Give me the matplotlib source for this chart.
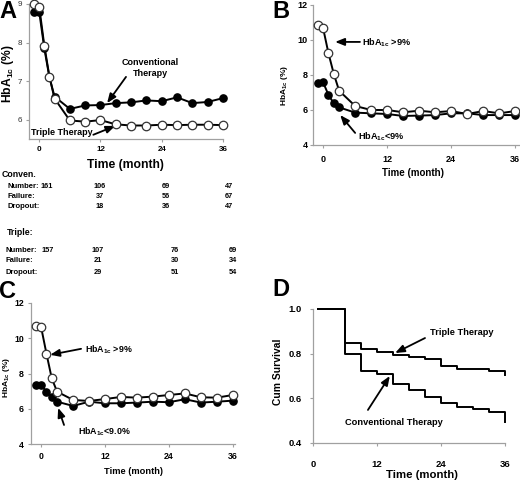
import matplotlib

matplotlib.use('Agg')
import matplotlib.pyplot as plt

plt.rcParams['font.family'] = ['Liberation Sans', 'DejaVu Sans']
plt.rcParams['font.weight'] = 'bold'
plt.rcParams['mathtext.fontset'] = 'custom'
plt.rcParams['mathtext.rm'] = 'Liberation Sans:bold'
plt.rcParams['mathtext.it'] = 'Liberation Sans:bold'
plt.rcParams['mathtext.bf'] = 'Liberation Sans:bold'

# ---- data ----
months = [-1, 0, 1, 2, 3, 6, 9, 12, 15, 18, 21, 24, 27, 30, 33, 36]

# panel A: HbA1c by treatment
conv_a = [8.80, 8.80, 7.85, 7.10, 6.60, 6.28, 6.37, 6.38, 6.43, 6.45, 6.50, 6.48, 6.58, 6.43, 6.46, 6.56]
conv_a_err = [0.08, 0.07, 0.07, 0.06, 0.05, 0.05, 0.05, 0.05, 0.05, 0.05, 0.06, 0.06, 0.07, 0.07, 0.06, 0.07]
triple_a = [9.00, 8.93, 7.92, 7.12, 6.55, 5.98, 5.95, 5.99, 5.88, 5.85, 5.85, 5.87, 5.86, 5.87, 5.87, 5.86]
triple_a_err = [0.08, 0.07, 0.06, 0.05, 0.05, 0.04, 0.05, 0.05, 0.04, 0.04, 0.05, 0.05, 0.05, 0.05, 0.05, 0.06]

# panel B: triple therapy by baseline HbA1c
high_b = [10.86, 10.67, 9.24, 8.06, 7.10, 6.23, 6.00, 6.00, 5.87, 5.96, 5.87, 5.94, 5.77, 5.94, 5.81, 5.94]
low_b = [7.52, 7.58, 6.86, 6.38, 6.15, 5.85, 5.81, 5.77, 5.66, 5.68, 5.71, 5.81, 5.81, 5.71, 5.71, 5.71]

# panel C: conventional therapy by baseline HbA1c
high_c = [10.72, 10.63, 9.13, 7.72, 6.97, 6.50, 6.44, 6.55, 6.67, 6.63, 6.69, 6.78, 6.87, 6.65, 6.63, 6.78]
low_c = [7.34, 7.34, 6.97, 6.69, 6.40, 6.16, 6.40, 6.31, 6.31, 6.35, 6.40, 6.37, 6.54, 6.35, 6.40, 6.46]

# panel D: cumulative survival
triple_t = [1, 6, 9, 12, 15, 18, 21, 24, 27, 33, 36]
triple_s = [1.0, 0.848, 0.822, 0.806, 0.792, 0.786, 0.775, 0.745, 0.731, 0.722, 0.705]
conv_t = [1, 6, 9, 12, 15, 18, 21, 24, 27, 30, 33, 36]
conv_s = [1.0, 0.800, 0.724, 0.709, 0.663, 0.636, 0.606, 0.578, 0.562, 0.553, 0.540, 0.495]

# table under panel A
row_names = ['Number:', 'Failure:', 'Dropout:']
conv_number = ['161', '106', '69', '47']
conv_failure = ['37', '56', '67']
conv_dropout = ['18', '36', '47']
triple_number = ['157', '107', '76', '69']
triple_failure = ['21', '30', '34']
triple_dropout = ['29', '51', '54']

W, H = 520, 480
GREY = '#a0a0a0'
fig = plt.figure(figsize=(W / 100, H / 100), dpi=100)


def box(left, top, right, bottom):
    return [left / W, 1 - bottom / H, (right - left) / W, (bottom - top) / H]


def ftext(px, py, s, **kw):
    fig.text(px / W, 1 - py / H, s, **kw)


def style(ax, size, xpad, ypad):
    for side in ('top', 'right'):
        ax.spines[side].set_visible(False)
    for side in ('left', 'bottom'):
        ax.spines[side].set_color(GREY)
        ax.spines[side].set_linewidth(0.9)
    ax.tick_params(axis='x', colors=GREY, labelcolor='black', labelsize=size,
                   length=2, width=0.8, pad=xpad)
    ax.tick_params(axis='y', colors=GREY, labelcolor='black', labelsize=size,
                   length=2, width=0.8, pad=ypad)
    ax.set_xticks([0, 12, 24, 36])


def arrow(ax, tail, head):
    ax.annotate('', xy=head, xytext=tail,
                arrowprops=dict(arrowstyle='-|>,head_length=0.55,head_width=0.22',
                                color='black', lw=1.3, shrinkA=0, shrinkB=0))


def pair(ax, filled, hollow, ms):
    ax.plot(months, filled, '-o', color='black', lw=1.4, ms=ms,
            mfc='black', mec='black', clip_on=False, zorder=3)
    ax.plot(months, hollow, '-o', color='black', lw=1.4, ms=ms + 0.9,
            mfc='white', mec='#333333', mew=0.9, clip_on=False, zorder=4)


# ---- A ----
ax = fig.add_axes(box(29, 4, 223, 139))
ax.errorbar(months, conv_a, yerr=conv_a_err, fmt='none', ecolor='#888888',
            elinewidth=0.8, capsize=1.5, zorder=2)
ax.errorbar(months, triple_a, yerr=triple_a_err, fmt='none', ecolor='#888888',
            elinewidth=0.8, capsize=1.5, zorder=2)
pair(ax, conv_a, triple_a, 5.2)
ax.set_xlim(-2, 36)
ax.set_ylim(5.5, 9.0)
ax.set_yticks([6, 7, 8, 9])
style(ax, 5.8, 3, 3)
for lab in ax.get_yticklabels():
    lab.set_fontweight('normal')
    lab.set_color('#333333')
ax.text(21.7, 7.35, 'Conventional\nTherapy', ha='center', va='center',
        fontsize=6.5, linespacing=1.25)
arrow(ax, (17.0, 7.11), (13.3, 6.43))
ax.text(4.5, 5.68, 'Triple Therapy', ha='center', va='center', fontsize=6.5)
arrow(ax, (10.6, 5.61), (14.9, 5.84))
ftext(125, 165, 'Time (month)', ha='center', va='center', fontsize=8.7)
ftext(8, 74, 'HbA$_{1c}$ (%)', ha='center', va='center', rotation=90, fontsize=8.7)
ftext(8, 11, 'A', ha='center', va='center', fontsize=17)

# table
ftext(2, 175, 'Conven.', ha='left', va='center', fontsize=6.3)
ftext(7, 233, 'Triple:', ha='left', va='center', fontsize=6.3)
for name, y in zip(row_names, [186, 197, 207]):
    ftext(7, y, name, ha='left', va='center', fontsize=5.5)
for name, y in zip(row_names, [250, 261, 272]):
    ftext(6, y, name, ha='left', va='center', fontsize=5.5)
conv_cols = [47, 100, 166, 229]
triple_cols = [48, 98, 175, 233]
for vals, y, cols in [(conv_number, 186, conv_cols), (conv_failure, 197, conv_cols[1:]),
                      (conv_dropout, 207, conv_cols[1:]),
                      (triple_number, 250, triple_cols), (triple_failure, 261, triple_cols[1:]),
                      (triple_dropout, 272, triple_cols[1:])]:
    for v, x in zip(vals, cols):
        ftext(x, y, v, ha='center', va='center', fontsize=5.3)

# ---- B ----
ax = fig.add_axes(box(313, 5, 520, 145))
pair(ax, low_b, high_b, 5.2)
ax.set_xlim(-1.9, 36.9)
ax.set_ylim(4, 12)
ax.set_yticks([4, 6, 8, 10, 12])
style(ax, 6.5, 5, 2)
ax.text(7.3, 9.83, 'HbA$_{1c}$ >9%', ha='left', va='center', fontsize=6.6)
arrow(ax, (6.9, 9.89), (2.25, 9.89))
ax.text(6.6, 4.46, 'HbA$_{1c}$<9%', ha='left', va='center', fontsize=6.6)
arrow(ax, (6.0, 4.69), (3.2, 5.71))
ftext(413, 173, 'Time (month)', ha='center', va='center', fontsize=7)
ftext(285, 85, 'HbA$_{1c}$ (%)', ha='center', va='center', rotation=90, fontsize=6)
ftext(281, 12, 'B', ha='center', va='center', fontsize=17)

# ---- C ----
ax = fig.add_axes(box(31, 303, 235, 444))
pair(ax, low_c, high_c, 5.2)
ax.set_xlim(-1.9, 36.4)
ax.set_ylim(4, 12)
ax.set_yticks([4, 6, 8, 10, 12])
style(ax, 6.3, 4, 3)
ax.text(8.25, 9.34, 'HbA$_{1c}$ >9%', ha='left', va='center', fontsize=6.4)
arrow(ax, (7.5, 9.4), (1.7, 9.06))
ax.text(6.9, 4.68, 'HbA$_{1c}$<9.0%', ha='left', va='center', fontsize=6.4)
arrow(ax, (4.3, 5.08), (3.2, 6.05))
ftext(133, 471, 'Time (month)', ha='center', va='center', fontsize=6.7)
ftext(7, 377, 'HbA$_{1c}$ (%)', ha='center', va='center', rotation=90, fontsize=6)
ftext(7, 291, 'C', ha='center', va='center', fontsize=17)

# ---- D ----
ax = fig.add_axes(box(313, 309, 505, 443))
ax.step(triple_t, triple_s, where='post', color='black', lw=1.4, clip_on=False)
ax.step(conv_t, conv_s, where='post', color='black', lw=1.4, clip_on=False)
ax.set_xlim(0, 36)
ax.set_ylim(0.4, 1.0)
ax.set_yticks([0.4, 0.6, 0.8, 1.0])
ax.set_yticklabels(['0.4', '0.6', '0.8', '1.0'])
style(ax, 6.8, 10, 6)
ax.text(21.9, 0.893, 'Triple Therapy', ha='left', va='center', fontsize=6.7)
arrow(ax, (21.0, 0.87), (15.4, 0.803))
ax.text(6.0, 0.494, 'Conventional Therapy', ha='left', va='center', fontsize=6.7)
arrow(ax, (10.3, 0.548), (14.4, 0.70))
ftext(422, 475, 'Time (month)', ha='center', va='center', fontsize=8.2)
ftext(278, 372, 'Cum Survival', ha='center', va='center', rotation=90, fontsize=7.4)
ftext(281, 290, 'D', ha='center', va='center', fontsize=17)

fig.savefig('out.png', dpi=100)
